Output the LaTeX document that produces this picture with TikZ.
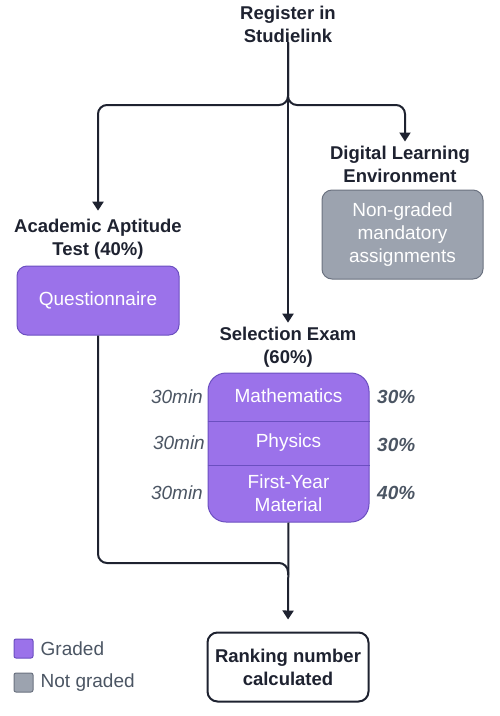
\documentclass[tikz,border=0pt]{standalone}
\usepackage{fontspec}
\setmainfont{Liberation Sans}
\usetikzlibrary{arrows.meta,positioning}

\definecolor{inkdark}{HTML}{1E2230}
\definecolor{labelgrey}{HTML}{4B5563}
\definecolor{gradedfill}{HTML}{9B72EA}
\definecolor{gradedline}{HTML}{6B4FC0}
\definecolor{plainfill}{HTML}{9CA3AF}
\definecolor{plainline}{HTML}{6B7280}

\tikzset{
  title/.style={font=\fontsize{18.5}{23}\selectfont\bfseries, text=inkdark, align=center, inner sep=0pt},
  graded/.style={draw=gradedline, fill=gradedfill, line width=1pt, rounded corners=10pt,
    text=white, font=\fontsize{19}{23}\selectfont, align=center},
  notgraded/.style={draw=plainline, fill=plainfill, line width=1pt, rounded corners=10pt,
    text=white, font=\fontsize{19}{23}\selectfont, align=center},
  flow/.style={draw=inkdark, line width=2pt, -{Triangle[length=9pt,width=11pt]}},
  wire/.style={draw=inkdark, line width=2pt},
  part/.style={text=white, font=\fontsize{19}{23}\selectfont, align=center, inner sep=0pt},
  timing/.style={font=\fontsize{19}{23}\selectfont\itshape, text=labelgrey, anchor=east, inner sep=0pt},
  weight/.style={font=\fontsize{19}{23}\selectfont\bfseries\itshape, text=labelgrey, anchor=west, inner sep=0pt},
  legendbox/.style={line width=1pt, rounded corners=2pt, minimum size=19pt, inner sep=0pt},
  legendtext/.style={font=\fontsize{19}{23}\selectfont, text=labelgrey, anchor=west, inner sep=0pt}
}

\begin{document}
\begin{tikzpicture}[x=1pt,y=-1pt]
  \useasboundingbox (0,0) rectangle (500,716);

  % start
  \node[title] (reg) at (288,24) {Register in\\Studielink};

  % three branches
  \node[title] (aat) at (98,239) {Academic Aptitude\\Test (40\%)};
  \node[graded, minimum width=162pt, minimum height=69pt] (quest) at (98,300.5) {Questionnaire};

  \node[title] (dle) at (400,164) {Digital Learning\\Environment};
  \node[notgraded, minimum width=161pt, minimum height=89pt] (assign) at (402.5,234.5)
    {Non-graded\\mandatory\\assignments};

  \node[title] (selt) at (288,347) {Selection Exam\\(60\%)};
  \node[graded, minimum width=161pt, minimum height=149pt, rounded corners=18pt] (sel) at (288.5,447.5) {};
  \draw[gradedline, line width=1pt] (sel.west |- 0,421) -- (sel.east |- 0,421);
  \draw[gradedline, line width=1pt] (sel.west |- 0,465) -- (sel.east |- 0,465);

  % exam parts
  \node[part] (math) at (288.5,396) {Mathematics};
  \node[part] (phys) at (288.5,443) {Physics};
  \node[part] (fym) at (288.5,493) {First-Year\\Material};

  \node[timing] (tmath) at (203,397) {30min};
  \node[timing] (tphys) at (205,443) {30min};
  \node[timing] (tfym) at (203,493) {30min};
  \node[weight] (wmath) at (377,397) {30\%};
  \node[weight] (wphys) at (377,445) {30\%};
  \node[weight] (wfym) at (377,493) {40\%};

  % result
  \node[draw=inkdark, fill=white, line width=2pt, rounded corners=10pt, minimum width=161pt,
    minimum height=69pt, title] (rank) at (288,667) {Ranking number\\calculated};

  % connectors
  \coordinate (split) at (288,105);
  \coordinate (merge) at (288,563);
  \draw[flow, rounded corners=9pt, shorten >=8pt] (reg.south) -- (split) -| (aat.north);
  \draw[flow, rounded corners=9pt, shorten >=4pt] (reg.south) -- (split) -| (dle.north -| 405,0);
  \draw[flow, shorten >=4pt] (reg.south) -- (selt.north);
  \draw[wire, rounded corners=9pt] (quest.south) |- (merge) -- ++(0,12);
  \draw[flow, shorten >=12pt] (sel.south) -- (rank.north);

  % legend
  \node[legendbox, draw=gradedline, fill=gradedfill] (kgraded) at (23.5,648.5) {};
  \node[legendtext, right=7pt of kgraded] (lgraded) {Graded};
  \node[legendbox, draw=plainline, fill=plainfill] (kplain) at (23.5,682.5) {};
  \node[legendtext, right=7pt of kplain] (lplain) {Not graded};
\end{tikzpicture}
\end{document}
